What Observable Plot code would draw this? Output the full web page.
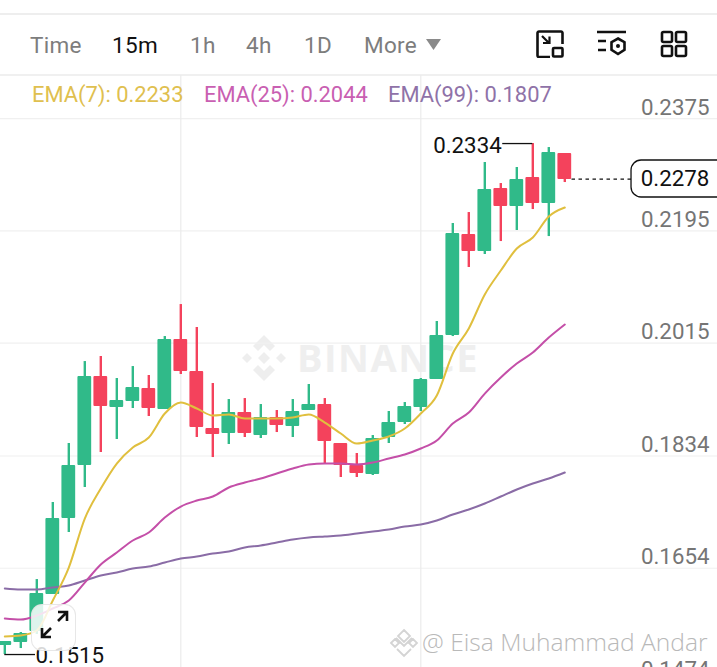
<!DOCTYPE html>
<html>
<head>
<meta charset="utf-8">
<script src="https://cdn.jsdelivr.net/npm/d3@7"></script>
<script src="https://cdn.jsdelivr.net/npm/@observablehq/plot@0.6"></script>
<style>
html,body{margin:0;padding:0;background:#fff;width:717px;height:667px;overflow:hidden;font-family:Roboto,sans-serif}
#page{position:relative;width:717px;height:667px;overflow:hidden}
#toolbar{position:relative;height:75px;width:717px;box-sizing:border-box;z-index:2}
.abs{position:absolute;white-space:nowrap}
.tab{top:31px;font-size:22.5px;line-height:28px;color:#7d7d7d;letter-spacing:.3px}
.leg{top:81px;font-size:21.9px;line-height:28px}
#chart{position:relative;z-index:1}
#chart svg{background:transparent!important;display:block}
</style>
</head>
<body>
<div id="page">
  <div class="abs" style="left:0;top:13px;width:717px;height:1.5px;background:#eee"></div>
  <div class="abs" style="left:0;top:74px;width:717px;height:1.5px;background:#f0f0f0"></div>

  <!-- background watermark, beneath the chart -->
  <svg class="abs" style="left:240px;top:334px" width="48" height="48" viewBox="0 0 48 48" fill="#eeeeee">
    <path d="M24 1l11 11-5 5-6-6-6 6-5-5zM24 47l-11-11 5-5 6 6 6-6 5 5zM2 24l5-5 5 5-5 5zM36 24l5-5 5 5-5 5zM24 18l6 6-6 6-6-6z"/>
  </svg>
  <div class="abs" style="left:297px;top:334px;font-size:38px;line-height:46px;font-weight:700;color:#efefef;letter-spacing:1.5px;font-family:'Open Sans',sans-serif">BINANCE</div>

  <div id="toolbar">
    <div class="abs tab" style="left:30px">Time</div>
    <div class="abs tab" style="left:112px;color:#111">15m</div>
    <div class="abs tab" style="left:190px">1h</div>
    <div class="abs tab" style="left:246px">4h</div>
    <div class="abs tab" style="left:304px">1D</div>
    <div class="abs tab" style="left:364px">More</div>
    <svg class="abs" style="left:426px;top:39px" width="15" height="11"><path d="M0 0H15L7.500 11Z" fill="#8a8a8a"/></svg>
    <svg class="abs" style="left:536px;top:30px" width="28" height="28" fill="none" stroke="#111" stroke-width="2.600">
      <path d="M14 27H3a1.500 1.500 0 0 1-1.500-1.500V3A1.500 1.500 0 0 1 3 1.500H25A1.500 1.500 0 0 1 26.500 3V14"/>
      <rect x="17" y="18" width="9.500" height="8.500" rx="1"/>
      <path d="M6 6l7 7M7 13h6.500V6.500" stroke-width="2.200"/>
    </svg>
    <svg class="abs" style="left:597px;top:30px" width="30" height="28" fill="none" stroke="#111" stroke-width="2.600">
      <path d="M0 2H29M1 11H9M1 20H9"/>
      <path d="M21 8.500l6.500 3.700v7.600L21 24l-6.500-4.200v-7.600z"/>
      <circle cx="21" cy="16" r="2" fill="#111" stroke="none"/>
    </svg>
    <svg class="abs" style="left:660px;top:30px" width="28" height="28" fill="none" stroke="#111" stroke-width="2.600">
      <rect x="2" y="2" width="10" height="10" rx="1.500"/><rect x="16" y="2" width="10" height="10" rx="1.500"/>
      <rect x="2" y="16" width="10" height="10" rx="1.500"/><rect x="16" y="16" width="10" height="10" rx="1.500"/>
    </svg>
  </div>
  <div id="chart"></div>

  <!-- overlays -->
  <div class="abs leg" style="left:32px;color:#dfc04f;z-index:2" id="l7"></div>
  <div class="abs leg" style="left:204px;color:#c95fb2;z-index:2" id="l25"></div>
  <div class="abs leg" style="left:388px;color:#8f72a8;z-index:2" id="l99"></div>

  <div class="abs" style="left:31px;top:604px;width:45px;height:47px;box-sizing:border-box;border:1.500px solid rgba(225,225,225,.8);border-radius:11px;background:rgba(255,255,255,.84);z-index:3"></div>
  <svg class="abs" style="left:39px;top:610px;z-index:4" width="30" height="30" fill="none" stroke="#111" stroke-width="2.600">
    <path d="M3 27L12 18M3 18V27H12M19 11L28 2M19 2H28V11"/>
  </svg>

  <svg class="abs" style="left:389px;top:628px;z-index:2" width="30" height="30" viewBox="0 0 30 30" fill="none" stroke="#d4d4d4" stroke-width="1.800">
    <path d="M15 2l6 6-6 6-6-6zM7 10l8 8 8-8M2 15l4-4 4 4-4 4zM20 15l4-4 4 4-4 4zM8 21l7 7 7-7"/>
  </svg>
  <div class="abs" style="left:422px;top:625px;font-family:'Open Sans',sans-serif;font-weight:300;font-size:24.600px;line-height:34px;color:#b9b9b9;z-index:2">@ Eisa Muhammad Andar</div>
</div>
<script>
const index = d3.range(36);
const open  = [.15301,.15349,.15526,.16119,.17337,.18187,.19614,.19117,.19213,.19422,.19085,.20207,.19694,.18780,.18700,.19037,.18668,.18957,.18813,.19069,.19165,.18540,.18187,.18043,.18636,.18876,.19117,.19566,.20271,.21891,.21618,.22628,.22339,.22804,.22387,.23189];
const close = [.15365,.15494,.16135,.17337,.18187,.19614,.19133,.19229,.19438,.19101,.20207,.19694,.18796,.18684,.19037,.18700,.18957,.18829,.19053,.19165,.18572,.18187,.18059,.18620,.18876,.19133,.19566,.20271,.21907,.21618,.22612,.22339,.22772,.22387,.23205,.22772];
const high  = [.15365,.15510,.16359,.17594,.18540,.19854,.19935,.19582,.19774,.19630,.20255,.20768,.20400,.19502,.19245,.19261,.19165,.19069,.19245,.19486,.19261,.18540,.18380,.18668,.19053,.19197,.19582,.20496,.22067,.22243,.23045,.22708,.22965,.23349,.23285,.23189];
const low   = [.15157,.15253,.15478,.16119,.17113,.17835,.18396,.18604,.19101,.18973,.19085,.19646,.18636,.18315,.18524,.18636,.18620,.18716,.18636,.19069,.18219,.17995,.17995,.18027,.18540,.18845,.19053,.19566,.20255,.21362,.21570,.21778,.21955,.22291,.21858,.22724];
const ema7  = [.15446,.15462,.15542,.16023,.16552,.17337,.17818,.18219,.18476,.18636,.19021,.19197,.19101,.18989,.19005,.18941,.18941,.18941,.18957,.19005,.18876,.18700,.18540,.18588,.18652,.18780,.19021,.19310,.19983,.20384,.20929,.21313,.21666,.21842,.22179,.22323];
const ema25 = [.15734,.15718,.15782,.15895,.16023,.16311,.16600,.16792,.16985,.17113,.17353,.17530,.17626,.17690,.17835,.17915,.17979,.18059,.18139,.18203,.18219,.18219,.18203,.18235,.18299,.18364,.18460,.18588,.18860,.19037,.19341,.19598,.19822,.19999,.20239,.20448];
const ema99 = [.16215,.16199,.16199,.16231,.16263,.16343,.16424,.16472,.16536,.16568,.16632,.16696,.16728,.16776,.16808,.16872,.16905,.16953,.17001,.17033,.17049,.17065,.17097,.17129,.17161,.17209,.17241,.17305,.17402,.17482,.17578,.17690,.17802,.17898,.17979,.18075];
const priceTicks = [.2375,.2195,.2015,.1834,.1654,.1474];
const timeGrid = [11, 26];
const legend = {l7:"EMA(7): 0.2233", l25:"EMA(25): 0.2044", l99:"EMA(99): 0.1807"};
const lastPrice = .2278, highLabel = .2334, lowLabel = .1515;

const GREEN = "#30ba89", RED = "#f4425c";
const candles = index.map(i => ({i, o: open[i], c: close[i], h: high[i], l: low[i], col: close[i] >= open[i] ? GREEN : RED}));
Object.entries(legend).forEach(([k, v]) => document.getElementById(k).textContent = v);

const textStyle = {fontFamily: "Roboto, sans-serif", fontSize: 22.3};
const plot = Plot.plot({
  width: 717, height: 592,
  marginTop: 0, marginBottom: 0, marginLeft: 0, marginRight: 0,
  x: {type: "linear", domain: [-0.26875, 44.5437], axis: null},
  y: {type: "linear", domain: [.14949, .24440], axis: null},
  style: {background: "transparent", overflow: "hidden"},
  marks: [
    Plot.ruleY(priceTicks, {stroke: "#f0f0f0", strokeWidth: 1.2}),
    Plot.ruleX(timeGrid, {stroke: "#ececec", strokeWidth: 1.2}),
    Plot.axisY({anchor: "right", ticks: priceTicks, tickSize: 0, tickPadding: 0, dx: -8, dy: -11,
      textAnchor: "end", tickFormat: d3.format(".4f"), label: null, fill: "#757575", ...textStyle, letterSpacing: "0.2px"}),
    Plot.ruleX(candles, {x: "i", y1: "l", y2: "h", stroke: "col", strokeWidth: 2.4}),
    Plot.rect(candles, {x1: d => d.i - 0.43, x2: d => d.i + 0.43, y1: "o", y2: "c", fill: "col", rx: 1}),
    Plot.line(index, {x: i => i, y: i => ema99[i], stroke: "#8a6ca6", strokeWidth: 2, curve: "monotone-x"}),
    Plot.line(index, {x: i => i, y: i => ema25[i], stroke: "#c44fa8", strokeWidth: 2, curve: "monotone-x"}),
    Plot.line(index, {x: i => i, y: i => ema7[i], stroke: "#e0bf3e", strokeWidth: 2, curve: "monotone-x"}),
    Plot.ruleY([lastPrice], {x1: 35.45, x2: 39.17, stroke: "#111", strokeWidth: 1.2, strokeDasharray: "3.500 3.500"}),
    Plot.rect([lastPrice], {x1: 39.17, x2: 46, y1: .22484, y2: .23077, fill: "#fff", stroke: "#111", strokeWidth: 1.3, rx: 10}),
    Plot.text([lastPrice], {x: 39.75, y: d => d, text: d => d3.format(".4f")(d), textAnchor: "start", fill: "#111", ...textStyle}),
    Plot.ruleY([.23349], {x1: 31.12, x2: 33, stroke: "#111", strokeWidth: 1.3}),
    Plot.text([highLabel], {x: 31.12, y: .23349, dx: -1, dy: 2, text: d => d3.format(".4f")(d), textAnchor: "end", fill: "#111", ...textStyle}),
    Plot.ruleY([.15157], {x1: 0, x2: 1.92, stroke: "#111", strokeWidth: 1.3}),
    Plot.text([lowLabel], {x: 1.92, y: .15157, dy: 1, text: d => d3.format(".4f")(d), textAnchor: "start", fill: "#111", ...textStyle})
  ]
});
document.getElementById("chart").append(plot);
</script>
</body>
</html>
